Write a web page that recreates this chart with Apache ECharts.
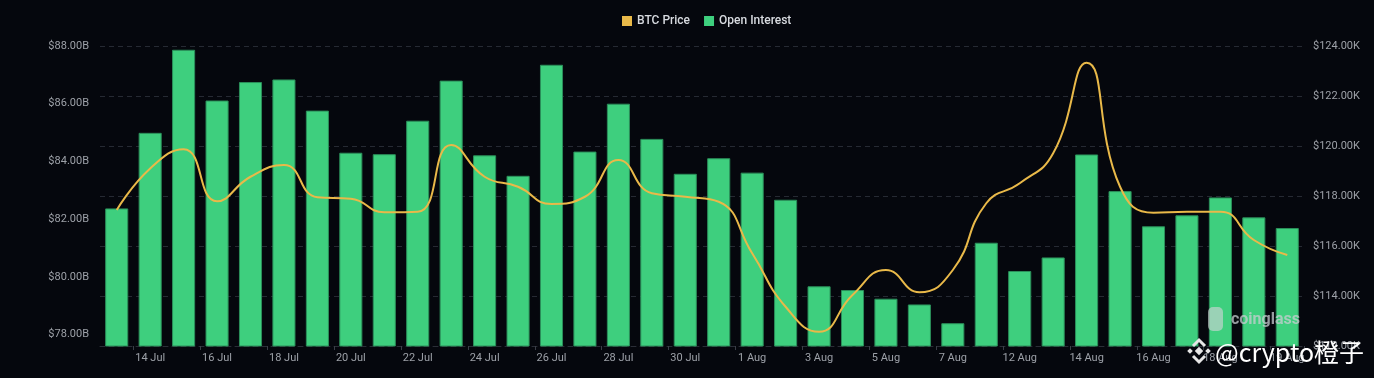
<!DOCTYPE html>
<html><head><meta charset="utf-8">
<script src="https://cdn.jsdelivr.net/npm/echarts@6/dist/echarts.min.js"></script>
<style>html,body{margin:0;padding:0;background:#05070d;}#c{width:1374px;height:378px;}</style>
</head><body><div id="c"></div>
<script>
const categories = ['13 Jul','14 Jul','15 Jul','16 Jul','17 Jul','18 Jul','19 Jul','20 Jul','21 Jul','22 Jul',
  '23 Jul','24 Jul','25 Jul','26 Jul','27 Jul','28 Jul','29 Jul','30 Jul','31 Jul','1 Aug',
  '2 Aug','3 Aug','4 Aug','5 Aug','6 Aug','7 Aug','11 Aug','12 Aug','13 Aug','14 Aug',
  '15 Aug','16 Aug','17 Aug','18 Aug','18 Aug','19 Aug'];
const openInterestB = [82.37, 84.99, 87.87, 86.11, 86.75, 86.84, 85.76, 84.30, 84.25, 85.41,
  86.80, 84.21, 83.50, 87.35, 84.34, 86.00, 84.78, 83.57, 84.11, 83.61,
  82.67, 79.67, 79.54, 79.24, 79.04, 78.39, 81.18, 80.20, 80.67, 84.24,
  82.97, 81.75, 82.13, 82.75, 82.06, 81.69];
const btcPriceK = [117.44, 119.10, 119.87, 117.79, 118.77, 119.24, 117.95, 117.89, 117.35, 117.37,
  120.04, 118.77, 118.37, 117.68, 117.97, 119.44, 118.11, 117.97, 117.77, 115.71,
  113.57, 112.57, 114.04, 115.04, 114.15, 115.04, 117.71, 118.51, 119.71, 123.33,
  118.37, 117.33, 117.37, 117.37, 116.24, 115.64];
const leftTicksB = [78, 80, 82, 84, 86, 88];
const rightTicksK = [112, 114, 116, 118, 120, 122, 124];

const axisFont = {color: '#9da1a8', fontSize: 11, fontFamily: 'Roboto'};
const chart = echarts.init(document.getElementById('c'), null, {renderer: 'canvas'});
chart.setOption({
  backgroundColor: '#05070d',
  animation: false,
  legend: {
    top: 10, left: 617, icon: 'rect', itemWidth: 10, itemHeight: 10, itemGap: 14,
    itemStyle: {borderWidth: 0},
    textStyle: {color: '#d8dbe0', fontSize: 12, fontFamily: 'Roboto', fontWeight: 500},
    data: ['BTC Price', 'Open Interest']
  },
  grid: {left: 100, right: 70, top: 46, bottom: 32},
  xAxis: {
    type: 'category', data: categories, boundaryGap: true,
    axisLine: {show: true, lineStyle: {color: '#2a2e37', type: [5, 4]}},
    axisTick: {show: true, length: 4, interval: (i) => i % 2 === 1, lineStyle: {color: '#3a3e47'}},
    axisLabel: Object.assign({interval: (i) => i % 2 === 1, margin: 7}, axisFont),
    splitLine: {show: false}
  },
  yAxis: [
    {
      type: 'value', position: 'left', min: 77.6, max: leftTicksB[leftTicksB.length - 1], splitNumber: 5,
      axisLine: {show: false}, axisTick: {show: false}, splitLine: {show: false},
      axisLabel: Object.assign({margin: 11, showMinLabel: false,
        formatter: (v) => leftTicksB.some(t => Math.abs(t - v) < 1e-6) ? '$' + v.toFixed(2) + 'B' : ''}, axisFont)
    },
    {
      type: 'value', position: 'right', min: rightTicksK[0], max: rightTicksK[rightTicksK.length - 1], interval: 2,
      axisLine: {show: false}, axisTick: {show: false},
      splitLine: {show: true, lineStyle: {color: '#262a33', type: [5, 4], width: 1}},
      axisLabel: Object.assign({margin: 9, formatter: (v) => '$' + v.toFixed(2) + 'K'}, axisFont)
    }
  ],
  series: [
    {
      name: 'Open Interest', type: 'bar', yAxisIndex: 0, data: openInterestB,
      barCategoryGap: '31%',
      itemStyle: {color: '#3ecf7e', borderColor: '#2b8f5a', borderWidth: 1}
    },
    {
      name: 'BTC Price', type: 'line', yAxisIndex: 1, data: btcPriceK, smooth: true,
      showSymbol: false, symbol: 'none', z: 5,
      itemStyle: {color: '#e9b949'},
      lineStyle: {color: '#e9b949', width: 2}
    }
  ],
  graphic: [
    {type: 'rect', z: 100, shape: {x: 1208, y: 307, width: 15, height: 24, r: 5},
      style: {fill: 'rgba(205,212,212,0.65)'}},
    {type: 'text', z: 100, x: 1231, y: 320,
      style: {text: 'coinglass', fill: 'rgba(200,205,210,0.75)', font: 'bold 16px Roboto', textVerticalAlign: 'middle'}},
    {type: 'rect', z: 101, x: 1199, y: 351, rotation: Math.PI / 4, shape: {x: -3, y: -3, width: 6, height: 6}, style: {fill: '#e6e6e6'}},
    {type: 'rect', z: 101, x: 1190, y: 351, rotation: Math.PI / 4, shape: {x: -2, y: -2, width: 4, height: 4}, style: {fill: '#e6e6e6'}},
    {type: 'rect', z: 101, x: 1208, y: 351, rotation: Math.PI / 4, shape: {x: -2, y: -2, width: 4, height: 4}, style: {fill: '#e6e6e6'}},
    {type: 'polyline', z: 101, shape: {points: [[1193, 346], [1199, 340], [1205, 346]]}, style: {stroke: '#e6e6e6', lineWidth: 3, fill: null}},
    {type: 'polyline', z: 101, shape: {points: [[1193, 356], [1199, 362], [1205, 356]]}, style: {stroke: '#e6e6e6', lineWidth: 3, fill: null}},
    {type: 'text', z: 101, x: 1215, y: 352,
      style: {text: '@crypto橙子', fill: '#ffffff', font: '25px "Noto Sans CJK SC"', textVerticalAlign: 'middle',
        shadowColor: 'rgba(0,0,0,0.6)', shadowBlur: 2}}
  ]
});
</script></body></html>
